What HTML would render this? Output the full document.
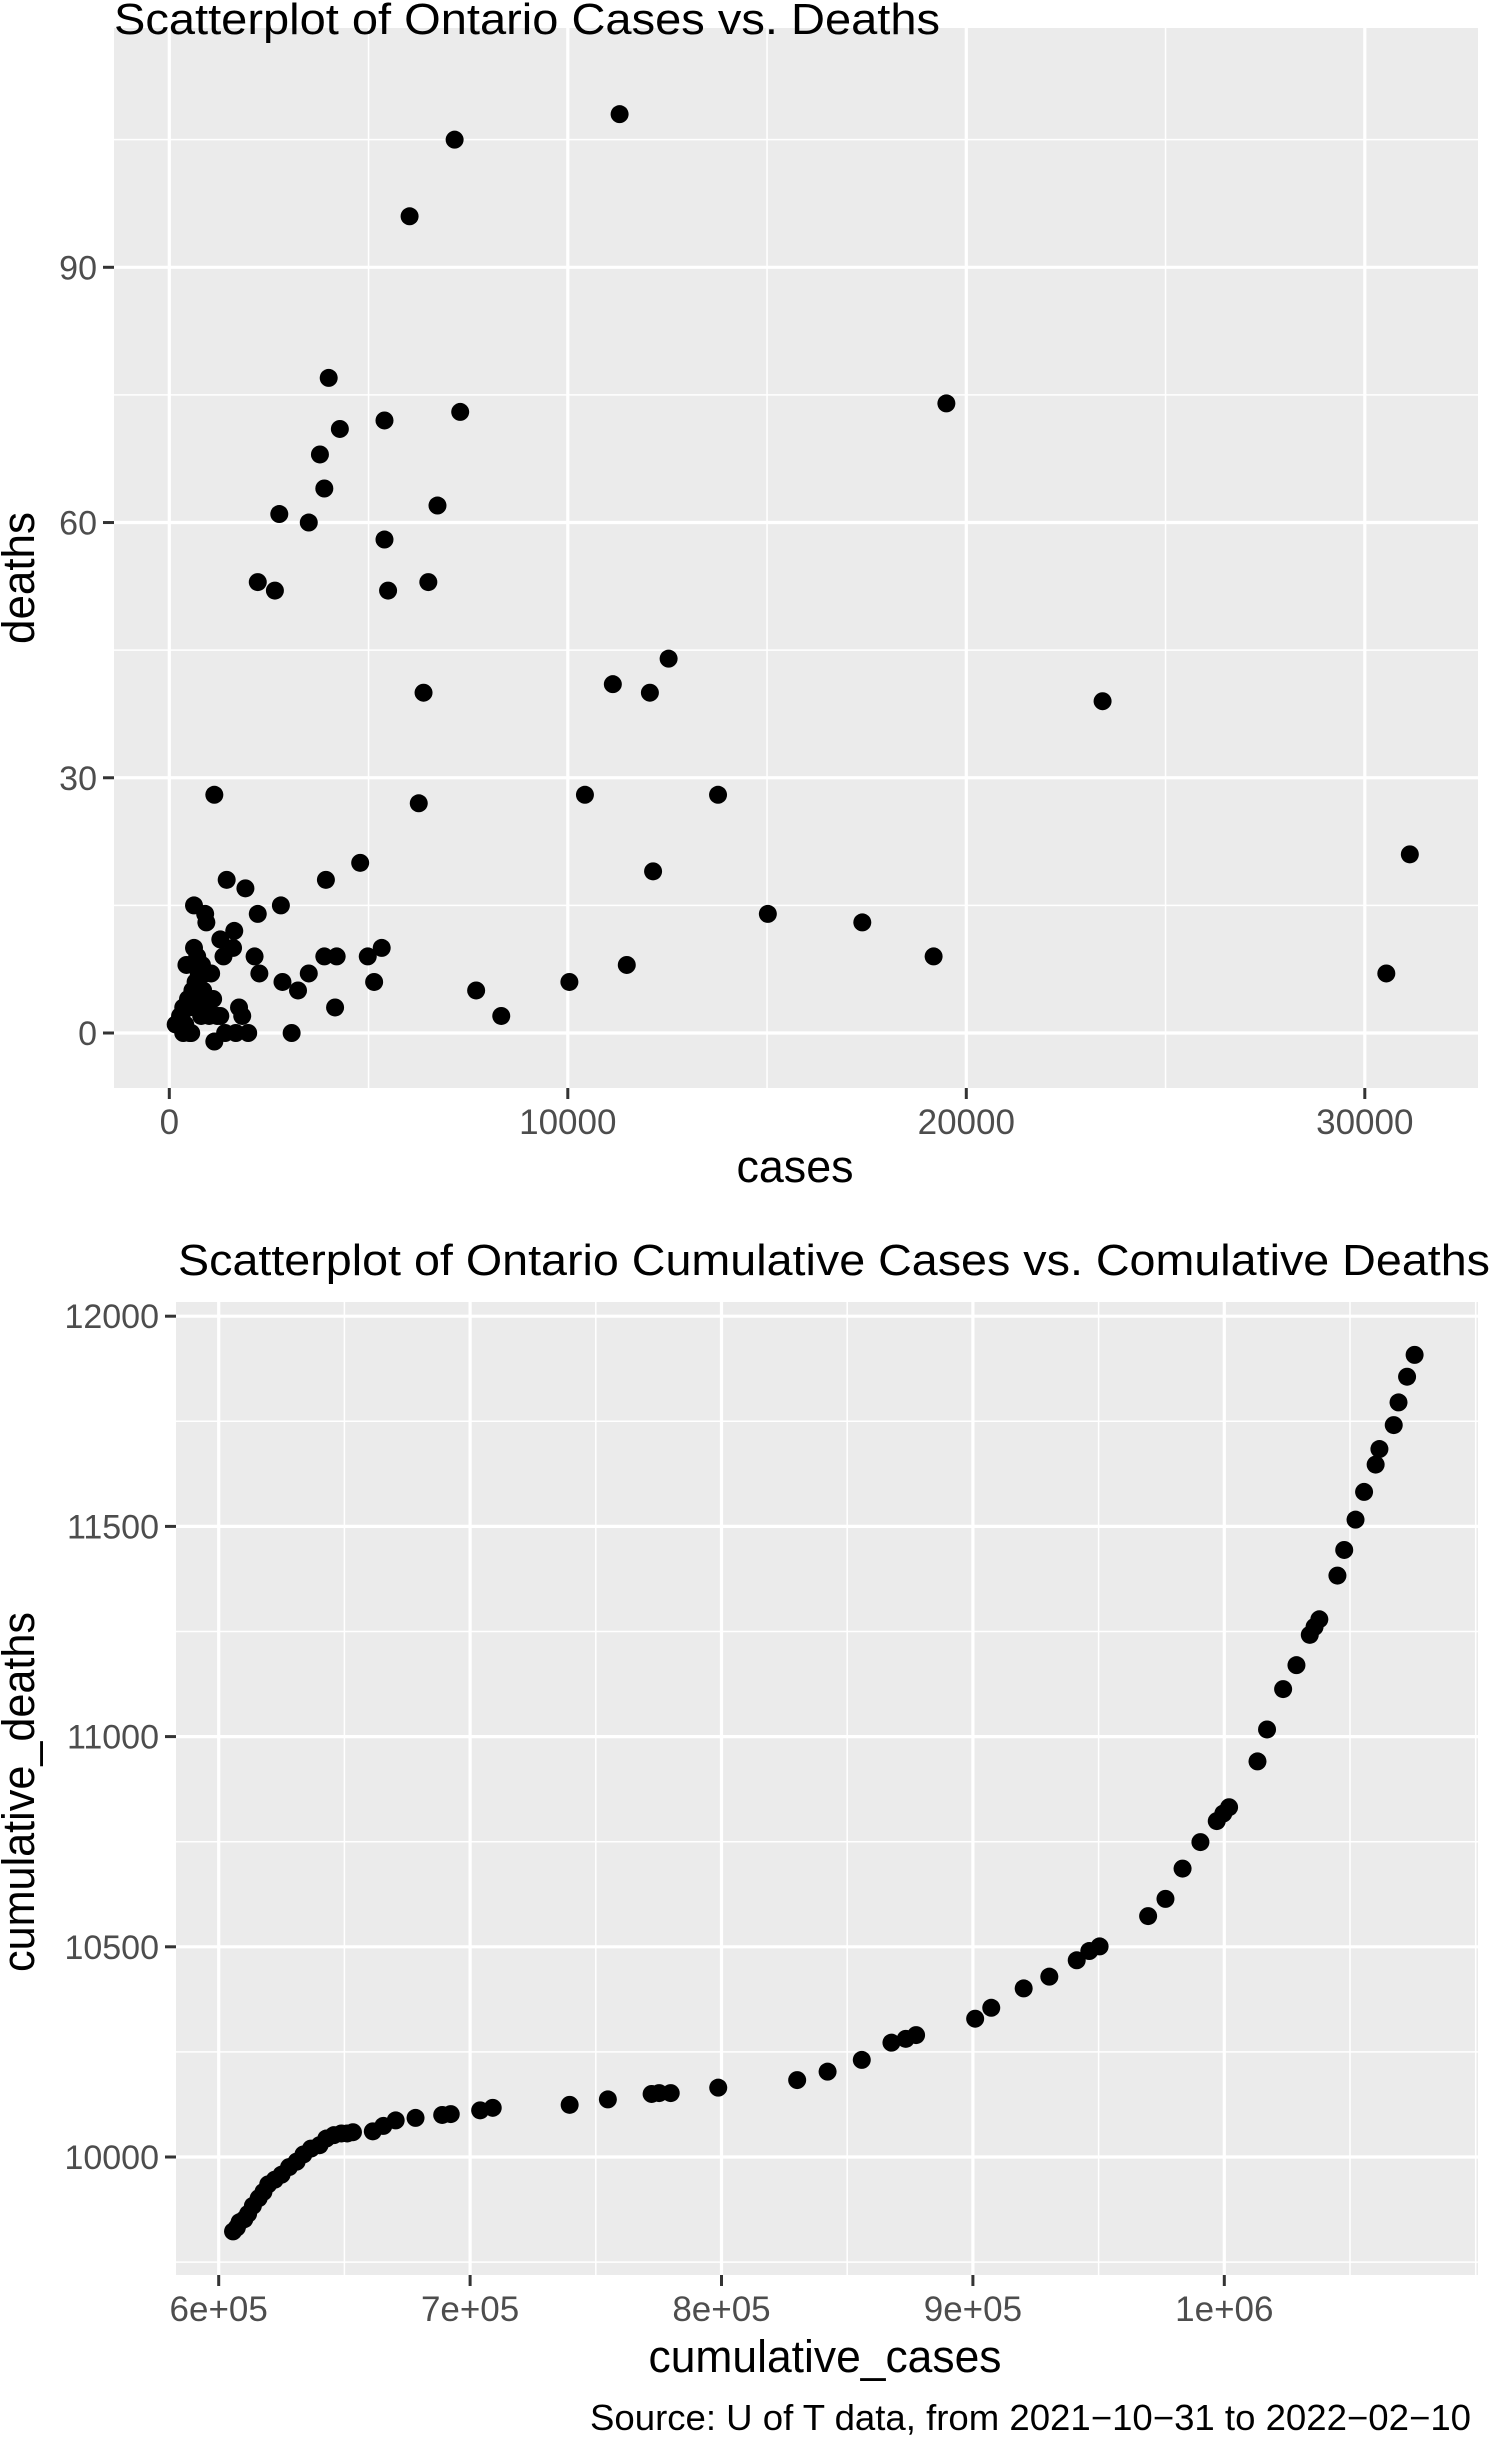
<!DOCTYPE html>
<html><head><meta charset="utf-8"><style>
html,body{margin:0;padding:0;background:#fff;}
svg{display:block;font-family:"Liberation Sans",Arial,sans-serif;}
</style></head><body>
<svg id="chart" width="1492" height="2438" viewBox="0 0 1492 2438" xmlns="http://www.w3.org/2000/svg">
<g id="p1"></g>
<g id="p2"></g>
</svg>
<script>
// ---- Panel 1 data ----
const casesX = [11300,7160,6030,19500,4000,4280,5400,7300,3780,3890,2760,3500,6730,5400,2220,2650,5490,6500,6380,11130,12060,12530,23420,1130,10430,13770,6260,31130,4790,12140,1440,3930,1910,620,2800,15020,900,2220,17390,930,1630,1280,19180,1600,5330,3890,4980,4200,2140,1360,620,11480,30540,3500,2260,430,5140,10040,2840,7700,3230,4160,8330,1750,1830,1280,3070,1980,1670,1400,1130,510,350,160,270,350,470,580,660,740,820,300,500,600,700,800,900,1000,400,200,650,750,1050,850,950,550,700,1200,600,800,1100];
const deathsY = [108,105,96,74,77,71,72,73,68,64,61,60,62,58,53,52,52,53,40,41,40,44,39,28,28,28,27,21,20,19,18,18,17,15,15,14,14,14,13,13,12,11,9,10,10,9,9,9,9,9,10,8,7,7,7,8,6,6,6,5,5,3,2,3,2,2,0,0,0,0,-1,0,0,1,2,3,4,5,6,7,8,2,3,5,6,4,7,2,1,1,3,8,7,5,3,0,9,2,4,2,4];
const xTicks1 = [0,10000,20000,30000];
const yTicks1 = [0,30,60,90];
// ---- Panel 2 data ----
const cumCases = [1075700,1072700,1069300,1067400,1061700,1060200,1055600,1052200,1047700,1045000,1037800,1035900,1034000,1028700,1023400,1017000,1013200,1001900,999600,997000,990500,983400,976600,969700,950400,946300,941300,930400,920200,907300,900900,877400,873300,867600,855800,842200,830100,798700,779800,775200,772200,754800,739600,709000,704000,692300,688900,678300,670400,665500,661300,653400,651100,648800,645800,642800,640100,636700,633700,631000,628000,625000,622300,619700,617800,615900,613600,611700,610200,608300,607200,605700];
const cumDeaths = [11908,11856,11795,11741,11684,11647,11582,11516,11444,11383,11279,11261,11242,11170,11113,11017,10941,10832,10817,10799,10749,10686,10614,10573,10501,10490,10468,10429,10401,10355,10329,10290,10281,10272,10231,10203,10183,10165,10152,10152,10150,10137,10124,10117,10111,10102,10100,10093,10087,10074,10061,10059,10056,10056,10052,10044,10028,10020,10006,9989,9976,9958,9946,9935,9917,9902,9884,9865,9852,9845,9832,9823];
const xTicks2 = [600000,700000,800000,900000,1000000];
const xTickLabels2 = ["6e+05","7e+05","8e+05","9e+05","1e+06"];
const yTicks2 = [10000,10500,11000,11500,12000];

const NS="http://www.w3.org/2000/svg";
function mk(parent,tag,attrs,text){const e=document.createElementNS(NS,tag);for(const k in attrs)e.setAttribute(k,attrs[k]);if(text!==undefined)e.textContent=text;parent.appendChild(e);return e;}

function drawPanel(g,o){
  const sx=v=>o.x0+(v-o.xv0)*o.kx, sy=v=>o.y0-(v-o.yv0)*o.ky;
  const bg=mk(g,'rect',{x:o.L,y:o.T,width:o.R-o.L,height:o.B-o.T,fill:'#ebebeb'});
  
  
  for(let v=o.xminStart;v<=o.xmaxV;v+=o.xstep){const x=sx(v);if(x<o.L||x>o.R)continue;mk(g,'line',{x1:x,x2:x,y1:o.T,y2:o.B,stroke:'#fff','stroke-width':1.5});}
  for(let v=o.yminStart;v<=o.ymaxV;v+=o.ystep){const y=sy(v);if(y<o.T||y>o.B)continue;mk(g,'line',{x1:o.L,x2:o.R,y1:y,y2:y,stroke:'#fff','stroke-width':1.5});}
  o.xt.forEach((v,i)=>{const x=sx(v);
    mk(g,'line',{x1:x,x2:x,y1:o.T,y2:o.B,stroke:'#fff','stroke-width':3.2});
    mk(g,'line',{x1:x,x2:x,y1:o.B,y2:o.B+11,stroke:'#333','stroke-width':3});
    const t=mk(g,'text',{x:x,y:o.B+46,'text-anchor':'middle','font-size':35,fill:'#4d4d4d'},o.xl[i]);
    
    });
  o.yt.forEach((v,i)=>{const y=sy(v);
    mk(g,'line',{x1:o.L,x2:o.R,y1:y,y2:y,stroke:'#fff','stroke-width':3.2});
    mk(g,'line',{x1:o.L-11,x2:o.L,y1:y,y2:y,stroke:'#333','stroke-width':3});
    const t=mk(g,'text',{x:o.L-17,y:y+12,'text-anchor':'end','font-size':34,fill:'#4d4d4d'},String(v));
    
    });
  o.xs.forEach((v,i)=>{const c=mk(g,'circle',{cx:sx(v),cy:sy(o.ys[i]),r:9,fill:'#000'});
    
    });
}

const g1=document.getElementById('p1');
drawPanel(g1,{L:114,R:1478,T:28,B:1088,x0:169.3,xv0:0,kx:398.5/10000,y0:1033,yv0:0,ky:(1033-267.3)/90,
  xminStart:-5000,xmaxV:35000,xstep:5000,yminStart:-15,ymaxV:120,ystep:15,
  xt:xTicks1,xl:xTicks1.map(String),yt:yTicks1,xs:casesX,ys:deathsY});
let t;
t=mk(g1,'text',{x:114,y:34,'font-size':44,fill:'#000',textLength:826,lengthAdjust:'spacingAndGlyphs'},'Scatterplot of Ontario Cases vs. Deaths');


t=mk(g1,'text',{x:795,y:1182,'text-anchor':'middle','font-size':45,fill:'#000',textLength:117,lengthAdjust:'spacingAndGlyphs'},'cases');


t=mk(g1,'text',{x:0,y:0,'text-anchor':'middle','font-size':45,fill:'#000',textLength:132,lengthAdjust:'spacingAndGlyphs',transform:'translate(34,578) rotate(-90)'},'deaths');



const g2=document.getElementById('p2');
drawPanel(g2,{L:176,R:1478,T:1302,B:2275,x0:218.7,xv0:600000,kx:251.4/100000,y0:2157,yv0:10000,ky:(2157-1316.2)/2000,
  xminStart:550000,xmaxV:1100000,xstep:50000,yminStart:9750,ymaxV:12250,ystep:250,
  xt:xTicks2,xl:xTickLabels2,yt:yTicks2,xs:cumCases,ys:cumDeaths});
t=mk(g2,'text',{x:178,y:1275,'font-size':44,fill:'#000',textLength:1312,lengthAdjust:'spacingAndGlyphs'},'Scatterplot of Ontario Cumulative Cases vs. Comulative Deaths');


t=mk(g2,'text',{x:825,y:2372,'text-anchor':'middle','font-size':45,fill:'#000',textLength:353,lengthAdjust:'spacingAndGlyphs'},'cumulative_cases');


t=mk(g2,'text',{x:0,y:0,'text-anchor':'middle','font-size':45,fill:'#000',textLength:360,lengthAdjust:'spacingAndGlyphs',transform:'translate(34,1792) rotate(-90)'},'cumulative_deaths');


t=mk(g2,'text',{x:1471,y:2430,'text-anchor':'end','font-size':36,fill:'#000',textLength:881,lengthAdjust:'spacingAndGlyphs'},'Source: U of T data, from 2021\u221210\u221231 to 2022\u221202\u221210');


</script>
</body></html>
